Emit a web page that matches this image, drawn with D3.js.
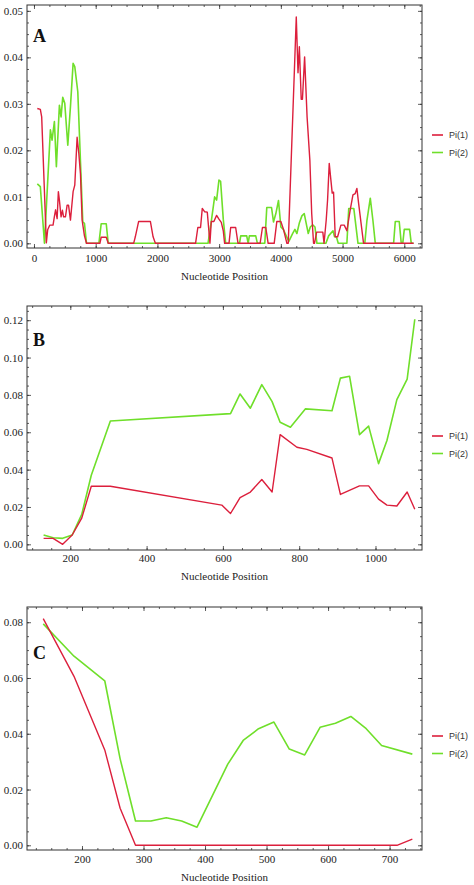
<!DOCTYPE html>
<html><head><meta charset="utf-8">
<script src="https://cdn.jsdelivr.net/npm/d3@7"></script>
<style>
body{margin:0;background:#fff;}
svg{display:block;}
.tick text{font-family:"Liberation Serif","Times New Roman",serif;font-size:11px;fill:#222;}
</style></head>
<body>
<svg id="chart" width="474" height="885"></svg>
<script>
// ---------- DATA ----------
// Panel A
const aPosRed = [54,103,125,200,222,255,309,330,350,375,395,412,439,461,480,510,537,560,591,634,661,699,727,753,780,818,851,1068,1089,1171,1203,1615,1642,1696,1886,1930,1967,2618,2655,2699,2727,2764,2808,2851,2873,2915,2959,2997,3035,3067,3089,3160,3187,3268,3306,3664,3702,3756,3794,3892,3935,4000,4043,4098,4120,4250,4278,4300,4330,4350,4385,4425,4470,4500,4530,4545,4580,4680,4700,4735,4757,4784,4811,4832,4854,4881,4920,4973,5027,5070,5124,5168,5205,5232,5260,5340,6151];
const aPi1 = [0.0290,0.0288,0.0272,0.0001,0.0029,0.0039,0.0039,0.0057,0.0072,0.0053,0.0111,0.0093,0.0057,0.0071,0.0057,0.0057,0.0082,0.0082,0.0050,0.0111,0.0125,0.0228,0.0193,0.0150,0.0050,0.0016,0,0,0.0013,0.0013,0,0,0.0014,0.0047,0.0047,0.0014,0,0,0.0034,0.0034,0.0075,0.0068,0.0067,0,0.0047,0.0047,0.0060,0.0052,0.0045,0.0027,0,0,0.0034,0.0034,0,0,0.0034,0.0034,0,0,0.0047,0.0047,0.0030,0,0,0.0487,0.0367,0.0423,0.0310,0.0310,0.0401,0.0272,0.0179,0.0064,0,0,0.0024,0.0024,0,0.0050,0.0093,0.0172,0.0136,0.0108,0.0110,0.0014,0.0014,0.0039,0.0039,0.0027,0.0072,0.0104,0.0107,0.0118,0.0086,0,0];
const aPosGreen = [54,103,170,266,293,331,363,412,439,466,499,548,591,634,661,710,791,818,851,1052,1089,1171,1203,2820,2873,2927,2959,2997,3024,3067,3106,3330,3350,3447,3470,3490,3593,3620,3740,3772,3849,3881,3919,3962,4000,4043,4098,4130,4190,4228,4260,4298,4341,4379,4423,4444,4477,4515,4553,4585,4730,4774,4845,4870,4900,4930,5070,5100,5182,5250,5360,5394,5449,5492,5530,5827,5854,5918,5951,5975,6000,6086,6113,6151];
const aPi2 = [0.0128,0.0122,0,0.0244,0.0222,0.0262,0.0165,0.0297,0.0272,0.0314,0.0301,0.0211,0.0294,0.0387,0.0380,0.0326,0.0046,0.0043,0,0,0.0042,0.0042,0,0,0.0047,0.0100,0.0093,0.0136,0.0133,0.0052,0,0,0.0016,0.0016,0,0.0016,0.0016,0,0,0.0077,0.0077,0.0046,0.0064,0.0092,0.0035,0.0029,0.0013,0.0004,0.0021,0.0030,0.0021,0.0043,0.0059,0.0064,0.0035,0.0021,0.0035,0.0040,0.0035,0,0,0.0016,0.0027,0.0014,0.0014,0,0,0.0075,0.0075,0,0,0.0048,0.0097,0.0049,0,0,0.0047,0.0047,0,0,0.0030,0.0030,0,0];
// Panel B
const bPosRed = [130,155,180,205,230,255,305,597,620,645,672,702,729,750,794,820,886,908,958,982,1008,1030,1056,1083,1103];
const bPi1 = [0.0032,0.0032,0.0000,0.0050,0.0140,0.0311,0.0311,0.0210,0.0165,0.0250,0.0280,0.0347,0.0280,0.0587,0.0520,0.0508,0.0462,0.0267,0.0313,0.0313,0.0242,0.0210,0.0205,0.0280,0.0188];
const bPosGreen = [130,155,180,205,230,255,305,620,645,672,702,729,750,777,816,886,908,932,958,982,1008,1030,1056,1083,1103];
const bPi2 = [0.0050,0.0035,0.0032,0.0050,0.0160,0.0370,0.0660,0.0700,0.0805,0.0729,0.0855,0.0764,0.0654,0.0627,0.0725,0.0715,0.0890,0.0900,0.0587,0.0633,0.0432,0.0556,0.0775,0.0885,0.1205];
// Panel C
const cPosRed = [137,187,237,262,287,712,737];
const cPi1 = [0.0813,0.0606,0.0342,0.0133,0.0000,0.0000,0.0022];
const cPosGreen = [137,187,237,262,287,312,337,362,387,437,462,487,512,537,562,587,612,637,662,687,737];
const cPi2 = [0.0794,0.0678,0.0590,0.0310,0.0087,0.0087,0.0099,0.0087,0.0065,0.0291,0.0376,0.0418,0.0442,0.0345,0.0324,0.0423,0.0438,0.0462,0.0418,0.0358,0.0327];
// Tick labels
const aXTicks = [0,1000,2000,3000,4000,5000,6000];
const aYTicks = [0.00,0.01,0.02,0.03,0.04,0.05];
const bXTicks = [200,400,600,800,1000];
const bYTicks = [0.00,0.02,0.04,0.06,0.08,0.10,0.12];
const cXTicks = [200,300,400,500,600,700];
const cYTicks = [0.00,0.02,0.04,0.06,0.08];
const panelLetters = ["A","B","C"];
const seriesNames = ["Pi(1)","Pi(2)"];
const xTitle = "Nucleotide Position";

// ---------- DRAW ----------
const svg = d3.select("#chart");
const RED = "#dc1f3c", GREEN = "#6fdf2a";

const panels = [
  {letter:panelLetters[0], x0:27, x1:422, y0:5, y1:248, xd:[-113,6287], yd:[-0.00101,0.05126],
   xt:aXTicks, yt:aYTicks, xMinor:250, yMinor:0.0025, xFmt:d3.format("d"), yFmt:d3.format(".2f"),
   red:[aPosRed,aPi1], green:[aPosGreen,aPi2], letterY:42, legY:135, xLabY:262, titleY:280},
  {letter:panelLetters[1], x0:27, x1:422, y0:306, y1:550, xd:[86.5,1121.9], yd:[-0.00304,0.1276],
   xt:bXTicks, yt:bYTicks, xMinor:50, yMinor:0.005, xFmt:d3.format("d"), yFmt:d3.format(".2f"),
   red:[bPosRed,bPi1], green:[bPosGreen,bPi2], letterY:346, legY:436, xLabY:562, titleY:580},
  {letter:panelLetters[2], x0:27, x1:422, y0:607, y1:850, xd:[110.6,752.7], yd:[-0.00169,0.08546],
   xt:cXTicks, yt:cYTicks, xMinor:25, yMinor:0.005, xFmt:d3.format("d"), yFmt:d3.format(".2f"),
   red:[cPosRed,cPi1], green:[cPosGreen,cPi2], letterY:659, legY:736, xLabY:863, titleY:881}
];

function range(a,b,s){const out=[];const n=Math.round((b-a)/s);for(let i=0;i<=n;i++)out.push(+(a+i*s).toFixed(6));return out;}

panels.forEach(p=>{
  const x = d3.scaleLinear().domain(p.xd).range([p.x0,p.x1]);
  const y = d3.scaleLinear().domain(p.yd).range([p.y1,p.y0]);
  const g = svg.append("g");

  const xMinorVals = range(Math.ceil(p.xd[0]/p.xMinor)*p.xMinor, Math.floor(p.xd[1]/p.xMinor)*p.xMinor, p.xMinor);
  const yMinorVals = range(Math.ceil(p.yd[0]/p.yMinor)*p.yMinor, Math.floor(p.yd[1]/p.yMinor)*p.yMinor, p.yMinor);

  function axisStyle(sel){sel.select(".domain").remove();sel.selectAll(".tick line").attr("stroke","#333").attr("stroke-width",0.8);}

  // bottom
  g.append("g").attr("transform",`translate(0,${p.y1})`)
    .call(d3.axisBottom(x).tickValues(xMinorVals).tickSize(-2).tickFormat("")).call(axisStyle);
  const bx = g.append("g").attr("transform",`translate(0,${p.y1})`)
    .call(d3.axisBottom(x).tickValues(p.xt).tickSize(-4).tickPadding(0).tickFormat(p.xFmt)).call(axisStyle);
  bx.selectAll(".tick text").attr("dy",null).attr("y",p.xLabY-p.y1);
  // top
  g.append("g").attr("transform",`translate(0,${p.y0})`)
    .call(d3.axisTop(x).tickValues(xMinorVals).tickSize(-2).tickFormat("")).call(axisStyle);
  g.append("g").attr("transform",`translate(0,${p.y0})`)
    .call(d3.axisTop(x).tickValues(p.xt).tickSize(-4).tickFormat("")).call(axisStyle);
  // left
  g.append("g").attr("transform",`translate(${p.x0},0)`)
    .call(d3.axisLeft(y).tickValues(yMinorVals).tickSize(-2).tickFormat("")).call(axisStyle);
  const ly = g.append("g").attr("transform",`translate(${p.x0},0)`)
    .call(d3.axisLeft(y).tickValues(p.yt).tickSize(-4).tickPadding(4).tickFormat(p.yFmt)).call(axisStyle);
  ly.selectAll(".tick text").attr("x",-4);
  // right
  g.append("g").attr("transform",`translate(${p.x1},0)`)
    .call(d3.axisRight(y).tickValues(yMinorVals).tickSize(-2).tickFormat("")).call(axisStyle);
  g.append("g").attr("transform",`translate(${p.x1},0)`)
    .call(d3.axisRight(y).tickValues(p.yt).tickSize(-4).tickFormat("")).call(axisStyle);

  // frame
  g.append("rect").attr("x",p.x0).attr("y",p.y0).attr("width",p.x1-p.x0).attr("height",p.y1-p.y0)
    .attr("fill","none").attr("stroke","#333").attr("stroke-width",1);

  const line = d3.line().x(d=>x(d[0])).y(d=>y(d[1]));
  const clipId = "clip"+p.letter;
  g.append("clipPath").attr("id",clipId).append("rect")
    .attr("x",p.x0).attr("y",p.y0).attr("width",p.x1-p.x0).attr("height",p.y1-p.y0);
  const redData = p.red[0].map((v,i)=>[v,p.red[1][i]]);
  const greenData = p.green[0].map((v,i)=>[v,p.green[1][i]]);
  g.append("path").datum(greenData).attr("d",line).attr("fill","none").attr("stroke",GREEN)
    .attr("stroke-width",1.6).attr("stroke-linejoin","round").attr("clip-path",`url(#${clipId})`);
  g.append("path").datum(redData).attr("d",line).attr("fill","none").attr("stroke",RED)
    .attr("stroke-width",1.4).attr("stroke-linejoin","round").attr("clip-path",`url(#${clipId})`);

  // panel letter
  g.append("text").attr("x",p.x0+6).attr("y",p.letterY).text(p.letter)
    .attr("font-family","Liberation Serif, Times New Roman, serif").attr("font-weight","bold")
    .attr("font-size",18).attr("fill","#111");

  // axis title
  g.append("text").attr("x",(p.x0+p.x1)/2).attr("y",p.titleY).attr("text-anchor","middle").text(xTitle)
    .attr("font-family","Liberation Serif, Times New Roman, serif").attr("font-size",11).attr("fill","#222");

  // legend
  [RED,GREEN].forEach((c,i)=>{
    const ly0 = p.legY + i*17.5;
    g.append("line").attr("x1",432).attr("x2",443).attr("y1",ly0).attr("y2",ly0)
      .attr("stroke",c).attr("stroke-width",1.6);
    g.append("text").attr("x",449).attr("y",ly0+3.2).text(seriesNames[i])
      .attr("font-family","Liberation Sans, Arial, sans-serif").attr("font-size",9).attr("fill","#333");
  });
});
</script>
</body></html>
